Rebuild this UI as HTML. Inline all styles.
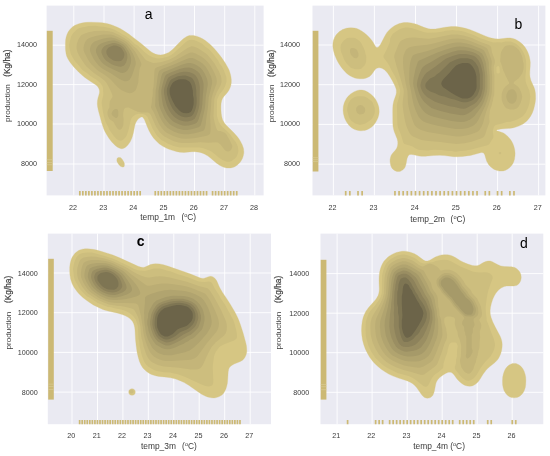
<!DOCTYPE html><html><head><meta charset="utf-8"><title>KDE plots</title><style>html,body{margin:0;padding:0;background:#fff}svg{display:block}text{font-family:"Liberation Sans",sans-serif;fill:#3a3a3a}</style></head><body>
<svg width="550" height="456" viewBox="0 0 550 456">
<rect width="550" height="456" fill="#fff"/>
<g>
<rect x="46.6" y="5.6" width="217.0" height="189.8" fill="#eaeaf2"/>
<path d="M73.8,5.6V195.4M104.0,5.6V195.4M134.1,5.6V195.4M164.3,5.6V195.4M194.5,5.6V195.4M224.7,5.6V195.4M254.8,5.6V195.4M46.6,45.2H263.6M46.6,84.6H263.6M46.6,124.0H263.6M46.6,164.0H263.6" stroke="#fff" stroke-width="0.90" fill="none"/>
<g>
<path d="M69.7,29.8 71.6,27.7 72.7,26.8 75.0,25.3 76.3,24.7 78.9,23.8 81.6,23.1 84.4,22.6 87.1,22.3 91.3,22.2 98.2,22.4 102.3,22.8 105.1,23.2 107.8,23.8 110.4,24.5 113.1,25.4 116.9,27.0 120.6,28.8 124.2,31.0 128.8,34.1 133.2,37.4 140.8,43.3 149.4,50.5 151.7,52.2 154.1,53.6 155.4,54.1 158.0,54.8 160.8,54.9 163.6,54.5 166.3,53.6 168.8,52.4 171.0,50.8 173.1,49.0 180.1,41.7 183.3,38.8 185.6,37.2 186.8,36.5 189.2,35.6 190.5,35.4 193.2,35.5 194.6,35.7 197.3,36.4 200.0,37.5 202.6,38.8 205.0,40.3 207.2,41.9 210.3,44.6 214.2,48.5 217.8,52.7 221.2,57.1 225.1,62.8 227.2,66.4 229.1,70.1 230.4,74.2 231.0,77.0 231.3,79.8 231.3,82.6 230.9,85.3 230.0,88.0 228.8,90.4 227.2,92.7 223.5,96.9 222.8,98.0 221.7,100.5 221.1,103.2 220.9,106.0 220.9,108.9 221.2,113.3 221.6,116.1 222.3,118.7 222.7,120.0 224.0,122.3 224.8,123.5 226.5,125.6 233.6,132.5 237.2,136.6 238.9,138.8 240.4,141.2 242.3,144.9 243.2,147.6 243.6,148.9 243.8,151.7 243.8,153.1 243.3,155.8 242.4,158.5 241.0,161.0 240.2,162.2 238.2,164.2 237.1,165.2 234.8,166.7 233.5,167.2 230.8,167.9 229.4,168.0 226.6,167.9 223.8,167.2 222.5,166.7 220.0,165.5 216.6,163.2 210.2,157.8 208.0,156.1 204.4,154.0 201.9,152.9 199.2,152.2 195.0,151.7 192.2,151.7 184.0,152.4 179.9,152.2 177.1,151.7 173.1,150.6 169.1,149.3 166.6,148.2 162.9,146.3 159.4,143.9 156.3,141.1 153.5,137.9 151.1,134.5 149.2,131.1 147.6,127.5 144.8,120.5 144.1,119.0 143.3,117.9 142.4,117.1 141.3,117.0 140.2,117.5 139.0,118.3 137.8,119.5 136.9,120.8 136.1,122.1 135.0,124.7 133.4,132.7 132.7,135.4 131.9,138.1 130.2,141.8 128.6,144.1 127.7,145.2 125.6,147.2 124.4,148.0 123.1,148.5 121.8,148.7 120.5,148.6 119.2,148.1 117.9,147.4 115.5,145.7 113.5,143.8 111.6,141.8 109.1,138.5 106.9,135.0 104.9,131.4 103.7,128.8 101.9,123.6 98.3,110.3 97.5,106.2 97.3,103.4 97.5,100.6 98.0,97.9 99.2,93.9 99.5,92.6 99.5,91.2 99.3,89.8 98.8,88.4 98.1,87.2 97.3,86.1 95.2,84.4 89.2,80.6 84.8,77.4 81.6,74.8 78.6,72.0 73.8,66.9 70.2,62.5 68.0,59.0 66.8,56.6 66.1,53.9 65.5,49.8 65.4,44.2 65.6,40.0 66.1,37.3 66.9,34.7 68.1,32.1ZM117.8,157.8 118.4,157.5 119.1,157.4 120.4,157.6 121.5,158.4 122.5,159.7 123.9,162.1 124.4,163.6 124.4,165.4 124.1,166.4 123.7,166.9 123.2,167.1 122.5,167.1 120.8,166.4 119.2,165.1 118.1,163.6 117.1,161.8 116.8,160.2 117.0,158.8 117.3,158.2Z" fill="#d6c683" stroke="#d6c683" stroke-width="0.3"/>
<path d="M72.8,33.6 76.6,29.7 78.3,28.6 81.6,27.5 84.6,27.0 88.6,26.1 95.6,25.8 99.6,26.5 103.6,26.7 109.6,28.1 114.6,29.8 117.6,31.6 119.6,32.4 122.6,34.5 125.6,36.1 130.6,39.8 134.6,43.8 135.6,44.5 137.6,45.5 138.6,46.2 143.6,51.3 148.6,55.3 152.6,57.3 155.6,58.1 157.6,58.5 161.6,58.3 166.6,57.1 168.1,56.6 171.6,54.8 173.3,53.6 185.6,42.2 187.6,40.8 189.6,40.0 191.6,39.7 194.6,40.3 196.6,41.0 201.9,43.6 205.6,46.9 208.6,49.0 210.6,50.9 214.4,55.6 215.7,57.6 218.2,60.6 219.6,63.4 221.3,65.6 222.5,67.6 223.9,70.6 226.2,76.6 226.5,78.6 226.5,81.6 226.3,82.6 225.4,85.6 223.4,89.6 219.6,94.2 217.6,98.3 217.2,99.6 217.0,101.6 216.9,113.6 217.1,116.6 218.6,121.5 220.3,124.6 222.9,127.6 226.6,130.8 230.2,134.6 233.6,139.4 235.4,141.6 236.5,143.6 237.8,146.6 238.4,150.6 238.3,151.6 237.6,154.2 236.6,156.7 234.6,158.8 231.6,160.9 229.6,161.7 228.6,161.8 226.6,161.7 222.6,160.0 218.7,157.6 215.6,154.8 211.4,151.6 209.4,150.6 202.6,147.9 199.6,147.5 186.6,147.6 179.6,147.5 173.6,146.0 167.5,143.6 164.4,141.6 161.6,140.2 160.8,139.6 156.8,135.6 152.5,128.6 150.9,124.6 149.6,122.1 147.6,117.1 146.1,115.6 144.5,114.6 142.6,114.1 138.6,113.8 137.6,113.9 135.8,114.6 134.1,115.6 132.9,116.6 132.0,117.6 131.4,118.6 130.6,120.6 128.9,128.6 127.4,133.6 126.6,135.5 125.6,137.2 123.6,139.3 121.6,140.5 120.6,140.7 118.6,140.2 116.6,138.9 113.6,135.8 109.2,129.6 108.0,126.6 105.6,121.9 103.7,115.6 102.9,111.6 101.7,103.6 101.8,101.6 103.4,94.6 103.0,88.6 102.6,86.6 102.1,85.6 100.7,83.6 96.6,79.8 92.8,77.6 89.9,75.6 86.6,72.7 83.1,70.6 82.0,69.6 78.9,65.6 75.3,61.6 72.7,57.6 71.1,54.6 70.4,52.6 69.4,47.6 69.3,44.6 69.6,42.6 71.1,36.6 71.6,35.4Z" fill="#cdbe7e" fill-rule="evenodd"/>
<path d="M80.2,36.6 81.6,35.1 83.6,34.0 88.6,32.3 94.6,31.1 103.6,30.7 108.6,31.2 112.6,32.1 118.6,34.8 124.6,38.2 128.6,41.1 133.6,46.2 136.6,48.6 145.6,59.8 146.6,60.5 151.6,62.5 153.6,63.0 156.6,62.8 161.6,62.0 166.6,60.6 169.6,59.5 175.3,56.6 182.6,51.3 187.6,48.0 189.6,47.0 191.6,46.3 193.6,46.5 197.6,48.1 205.6,53.3 207.6,55.0 210.6,58.4 214.5,63.6 219.0,71.6 220.7,75.6 221.4,78.6 221.6,81.6 220.9,84.6 220.0,86.6 217.6,90.7 216.7,92.6 214.7,97.6 214.3,99.6 213.5,115.6 213.8,118.6 214.9,123.6 216.4,128.6 217.6,130.6 218.6,131.1 220.6,131.1 221.6,131.4 224.3,132.6 225.6,133.6 226.6,134.8 229.6,140.0 232.2,145.6 232.3,146.6 232.1,147.6 231.3,149.6 230.4,150.6 229.6,151.1 228.6,151.4 226.6,151.3 225.6,150.8 224.3,149.6 220.5,144.6 218.6,142.9 217.6,142.5 215.6,142.3 208.6,142.7 200.6,142.3 189.6,143.1 182.6,143.1 178.6,142.6 174.6,141.4 171.6,140.3 164.5,136.6 162.0,134.6 160.0,132.6 156.0,126.6 150.6,114.6 149.6,113.4 148.6,112.8 147.6,112.6 141.6,112.6 137.6,111.8 134.8,110.6 129.6,107.9 128.6,107.6 127.6,107.4 125.6,107.7 124.6,108.4 123.9,109.6 123.3,112.6 123.1,115.6 123.6,119.6 123.4,123.6 123.2,125.6 122.6,127.1 121.6,128.8 120.6,129.5 119.6,129.7 118.6,129.5 117.6,128.8 115.4,125.6 113.6,122.1 112.6,121.2 110.6,120.1 109.1,118.6 108.2,116.6 107.6,114.6 107.5,112.6 107.6,111.6 108.3,109.6 109.4,107.6 109.6,102.6 109.8,101.6 110.2,100.6 112.2,97.6 112.5,96.6 112.5,95.6 111.8,93.6 108.5,86.6 106.2,82.6 104.4,80.6 99.6,76.7 96.1,74.6 93.3,72.6 86.5,66.6 84.8,64.6 80.2,57.6 77.6,52.6 77.0,50.6 76.6,48.6 76.6,46.6 76.8,44.6 77.3,42.6 78.4,39.6Z" fill="#c4b579" fill-rule="evenodd"/>
<path d="M87.0,39.6 88.4,38.6 90.6,37.6 96.6,35.8 103.6,34.6 107.6,34.5 110.6,34.6 113.6,35.3 117.6,36.9 123.6,40.0 126.6,42.1 128.3,43.6 135.1,51.6 139.1,58.6 141.3,63.6 141.4,64.6 141.1,65.6 140.1,67.6 139.5,69.6 138.5,78.6 138.3,82.6 136.4,88.6 135.6,90.2 134.6,91.3 132.6,92.6 131.6,93.0 129.6,93.2 126.6,92.5 121.6,90.3 119.6,88.8 117.6,87.0 110.6,79.6 108.6,77.8 104.2,74.6 99.3,71.6 96.6,69.6 91.6,64.6 89.9,62.6 88.0,59.6 84.8,53.6 83.7,50.6 83.5,47.6 84.2,44.6 85.5,41.6ZM192.6,52.4 195.6,53.5 201.6,56.8 204.6,59.0 207.2,61.6 209.7,64.6 211.6,67.6 214.7,73.6 215.9,76.6 216.5,78.6 216.8,81.6 216.6,83.6 212.9,93.6 211.7,97.6 211.4,99.6 210.9,107.6 210.1,116.6 210.6,127.6 210.5,131.6 210.1,133.6 209.4,134.6 207.6,135.5 205.6,136.1 195.6,137.9 190.6,138.6 185.6,138.8 181.6,138.5 177.6,137.6 172.6,135.8 167.6,133.2 165.6,131.9 163.6,130.1 161.6,127.7 158.8,123.6 153.6,112.1 151.4,108.6 151.0,107.6 151.0,106.6 151.8,102.6 152.0,98.6 152.7,95.6 152.8,89.6 153.6,86.6 154.4,71.6 154.7,69.6 155.1,68.6 156.6,67.4 167.6,63.6 170.6,62.4 176.9,59.6 184.6,55.3 188.6,53.3 190.6,52.5ZM115.6,108.9 116.6,108.9 117.6,109.6 118.3,111.6 118.3,115.6 117.6,117.1 116.6,117.9 115.6,117.9 112.6,115.8 111.8,114.6 111.6,113.6 112.4,111.6 113.1,110.6 114.6,109.2Z" fill="#bbad74" fill-rule="evenodd"/>
<path d="M93.2,42.6 94.7,41.6 96.6,40.7 102.6,38.7 107.6,37.8 111.6,37.6 113.6,37.9 115.6,38.5 120.6,40.7 123.6,42.4 126.4,44.6 131.0,50.6 132.8,53.6 134.9,58.6 135.8,62.6 135.7,64.6 132.6,73.9 131.0,77.6 129.6,79.7 128.5,80.6 126.6,81.3 124.6,81.2 122.6,80.5 118.6,78.4 111.1,73.6 102.6,68.7 100.6,67.3 98.7,65.6 95.4,61.6 93.4,58.6 91.4,54.6 90.2,51.6 89.9,49.6 90.5,46.6 91.5,44.6ZM191.6,57.9 192.6,58.0 194.6,58.8 199.6,61.4 202.6,63.6 205.5,66.6 208.1,70.6 211.0,76.6 211.6,78.6 212.1,80.6 212.1,83.6 208.7,97.6 207.9,107.6 206.6,116.6 205.8,123.6 205.1,127.6 204.4,129.6 203.6,130.4 202.6,131.0 198.6,132.3 194.6,133.3 188.6,134.3 183.6,134.3 180.6,133.8 177.6,133.0 173.6,131.4 170.1,129.6 167.6,127.9 166.2,126.6 164.4,124.6 162.3,121.6 159.6,116.6 155.4,106.6 155.2,104.6 155.7,90.6 156.4,86.6 157.4,78.6 158.0,74.6 158.9,71.6 159.6,70.6 161.6,69.3 172.6,65.0 186.6,59.0 189.6,58.0Z" fill="#b1a46f" fill-rule="evenodd"/>
<path d="M98.2,45.6 100.6,43.7 103.6,42.4 108.6,41.0 112.6,40.4 114.6,40.6 117.6,41.6 121.6,43.5 123.6,44.8 125.6,46.8 128.7,51.6 130.1,54.6 130.9,57.6 131.1,60.6 130.7,63.6 129.2,67.6 127.6,70.3 126.3,71.6 124.6,72.6 122.6,73.0 120.6,72.7 116.6,71.1 108.6,67.3 105.6,65.6 102.9,63.6 101.1,61.6 99.0,58.6 97.4,55.6 96.1,52.6 95.9,50.6 96.0,49.6 96.8,47.6ZM190.6,62.9 193.6,63.8 197.6,65.8 200.6,68.0 202.6,70.2 204.7,73.6 206.9,78.6 207.6,81.6 207.8,83.6 207.6,85.6 205.8,96.6 205.2,105.6 204.6,109.6 202.1,120.6 200.6,125.4 199.6,126.6 198.6,127.2 192.6,129.1 187.6,130.0 183.6,129.9 180.6,129.3 177.6,128.4 174.6,127.1 171.6,125.4 169.6,123.9 168.2,122.6 166.5,120.6 164.6,117.9 161.9,112.6 159.8,107.6 159.2,105.6 158.6,99.6 158.5,90.6 161.0,77.6 161.9,74.6 162.4,73.6 163.2,72.6 164.6,71.7 181.6,64.8 186.6,63.3 188.6,62.9Z" fill="#a69a69" fill-rule="evenodd"/>
<path d="M103.1,47.6 104.6,46.1 106.6,44.9 109.6,43.9 112.6,43.1 114.6,43.1 116.6,43.5 119.6,44.6 121.6,45.7 123.6,47.6 124.3,48.6 126.6,52.6 127.2,54.6 127.4,57.6 127.0,59.6 126.1,62.6 124.9,64.6 123.6,65.7 121.6,66.5 120.6,66.7 118.6,66.5 114.6,65.4 111.6,64.2 109.6,63.1 106.6,61.1 105.0,59.6 103.6,57.6 102.1,54.6 101.4,52.6 101.5,50.6 101.8,49.6ZM188.6,67.5 191.6,68.1 194.6,69.4 197.6,71.4 199.6,73.6 201.8,77.6 203.1,81.6 203.6,84.6 203.5,88.6 202.8,95.6 202.3,104.6 201.9,107.6 201.3,110.6 199.8,115.6 198.6,119.3 197.6,121.6 196.6,122.8 195.6,123.5 192.6,124.6 188.6,125.6 184.6,125.7 182.6,125.4 179.6,124.6 176.6,123.3 174.6,122.3 172.6,120.9 171.1,119.6 169.3,117.6 167.6,115.3 166.0,112.6 164.6,109.6 163.4,106.6 162.8,104.6 161.8,98.6 161.3,93.6 161.3,90.6 162.0,86.6 164.2,78.6 165.5,75.6 166.5,74.6 170.5,72.6 179.6,69.0 184.6,67.8Z" fill="#9a8e62" fill-rule="evenodd"/>
<path d="M107.7,48.6 108.7,47.6 110.7,46.6 113.5,45.6 114.6,45.5 116.6,45.8 119.6,46.9 120.6,47.6 121.7,48.6 122.6,49.9 123.6,51.7 124.3,53.6 124.4,54.6 124.1,56.6 123.6,57.9 122.6,59.6 121.6,60.5 120.6,61.0 118.6,61.2 115.6,61.0 113.6,60.6 112.6,60.1 109.6,58.1 108.1,56.6 106.5,53.6 106.3,51.6 106.5,50.6ZM183.6,71.7 186.6,71.7 189.6,72.2 192.9,73.6 194.5,74.6 195.6,75.6 197.0,77.6 198.4,80.6 199.2,83.6 199.7,86.6 199.8,90.6 199.4,104.6 198.7,108.6 197.5,112.6 195.9,116.6 194.6,118.7 193.6,119.5 191.6,120.5 189.6,121.1 187.6,121.4 185.6,121.5 183.6,121.3 181.6,120.8 178.6,119.7 176.6,118.6 175.1,117.6 173.6,116.3 171.6,114.0 169.2,110.6 166.9,105.6 165.2,99.6 164.1,93.6 164.0,90.6 164.5,87.6 166.8,80.6 167.6,78.7 168.4,77.6 170.6,76.1 176.6,73.5 179.6,72.5Z" fill="#8d825b" fill-rule="evenodd"/>
<path d="M179.6,75.9 183.6,75.5 185.6,75.6 188.6,76.4 191.2,77.6 192.6,78.8 193.6,80.2 194.7,82.6 195.6,85.6 196.3,90.6 196.3,94.6 196.7,98.6 196.6,103.6 196.2,106.6 195.0,110.6 193.6,113.8 192.6,115.0 191.6,115.9 190.6,116.4 188.6,117.1 186.6,117.3 184.6,117.3 181.6,116.6 178.6,115.1 175.6,112.4 172.6,108.8 170.6,105.1 168.4,99.6 167.1,94.6 166.8,91.6 167.0,88.6 168.8,83.6 169.6,81.7 170.3,80.6 171.6,79.3 173.6,78.2 177.2,76.6Z" fill="#7e7553" fill-rule="evenodd"/>
<path d="M178.6,79.5 180.6,79.3 183.6,79.2 185.6,79.6 187.6,80.4 189.6,81.8 190.6,83.3 191.6,85.6 192.8,90.6 193.0,95.6 193.7,98.6 193.6,104.6 192.6,108.6 191.6,110.8 190.6,111.9 188.6,112.9 186.6,113.2 183.6,113.0 181.6,112.2 179.6,110.7 175.6,106.4 172.6,101.1 170.6,96.5 169.8,93.6 169.6,91.6 169.8,88.6 170.6,86.6 172.2,83.6 173.6,82.1 176.1,80.6Z" fill="#6c6449" fill-rule="evenodd"/>
</g>
<rect x="46.8" y="30.8" width="5.9" height="140.2" fill="#ccb974"/>
<rect x="46.8" y="159.5" width="5.9" height="0.6" fill="#d9cb98"/>
<rect x="46.8" y="162.0" width="5.9" height="0.6" fill="#d9cb98"/>
<rect x="46.8" y="164.5" width="5.9" height="0.6" fill="#d9cb98"/>
<path d="M79.83,191.0V195.4M82.85,191.0V195.4M85.87,191.0V195.4M88.88,191.0V195.4M91.90,191.0V195.4M94.92,191.0V195.4M97.94,191.0V195.4M100.95,191.0V195.4M103.97,191.0V195.4M106.99,191.0V195.4M110.00,191.0V195.4M113.02,191.0V195.4M116.04,191.0V195.4M119.06,191.0V195.4M122.07,191.0V195.4M125.09,191.0V195.4M128.11,191.0V195.4M131.12,191.0V195.4M134.14,191.0V195.4M137.16,191.0V195.4M140.17,191.0V195.4M155.26,191.0V195.4M158.28,191.0V195.4M161.29,191.0V195.4M164.31,191.0V195.4M167.33,191.0V195.4M170.34,191.0V195.4M173.36,191.0V195.4M176.38,191.0V195.4M179.39,191.0V195.4M182.41,191.0V195.4M185.43,191.0V195.4M188.45,191.0V195.4M191.46,191.0V195.4M194.48,191.0V195.4M197.50,191.0V195.4M200.51,191.0V195.4M203.53,191.0V195.4M206.55,191.0V195.4M212.58,191.0V195.4M215.60,191.0V195.4M218.62,191.0V195.4M221.63,191.0V195.4M224.65,191.0V195.4M227.67,191.0V195.4M230.68,191.0V195.4M233.70,191.0V195.4M236.72,191.0V195.4" stroke="#ccb974" stroke-width="1.70" fill="none"/>
<text x="73.0" y="209.8" font-size="7.2" text-anchor="middle">22</text>
<text x="103.2" y="209.8" font-size="7.2" text-anchor="middle">23</text>
<text x="133.3" y="209.8" font-size="7.2" text-anchor="middle">24</text>
<text x="163.5" y="209.8" font-size="7.2" text-anchor="middle">25</text>
<text x="193.7" y="209.8" font-size="7.2" text-anchor="middle">26</text>
<text x="223.9" y="209.8" font-size="7.2" text-anchor="middle">27</text>
<text x="254.0" y="209.8" font-size="7.2" text-anchor="middle">28</text>
<text x="36.9" y="47.2" font-size="7.2" text-anchor="end">14000</text>
<text x="36.9" y="86.6" font-size="7.2" text-anchor="end">12000</text>
<text x="36.9" y="126.0" font-size="7.2" text-anchor="end">10000</text>
<text x="36.9" y="166.0" font-size="7.2" text-anchor="end">8000</text>
<text x="140.2" y="219.6" font-size="8.4">temp_1m</text>
<text x="181.4" y="219.6" font-size="8.4">(<tspan font-size="5.6" dy="-2.6">o</tspan><tspan dy="2.6">C)</tspan></text>
<text transform="translate(9.8,122.0) rotate(-90)" font-size="8.1">production</text>
<text transform="translate(9.8,76.8) rotate(-90)" font-size="8.3" stroke="#3a3a3a" stroke-width="0.2">(Kg/ha)</text>
<text x="148.6" y="19.1" font-size="14.0" font-weight="normal" text-anchor="middle" style="fill:#000">a</text>
</g>
<g>
<rect x="312.5" y="5.6" width="232.9" height="189.8" fill="#eaeaf2"/>
<path d="M333.4,5.6V195.4M374.4,5.6V195.4M415.5,5.6V195.4M456.5,5.6V195.4M497.6,5.6V195.4M538.6,5.6V195.4M312.5,45.0H545.4M312.5,84.7H545.4M312.5,124.4H545.4M312.5,164.2H545.4" stroke="#fff" stroke-width="0.90" fill="none"/>
<g>
<path d="M336.0,35.1 337.6,33.2 339.4,31.6 341.5,30.2 342.5,29.6 344.8,28.7 347.1,28.1 350.8,27.7 354.4,28.0 356.8,28.6 359.0,29.5 361.2,30.7 364.2,32.8 366.9,35.1 369.4,37.5 371.7,40.2 373.1,42.3 375.2,45.9 375.9,46.9 376.6,47.5 377.4,47.5 378.2,47.2 379.0,46.4 380.6,44.2 385.1,35.5 386.8,32.7 388.3,30.9 390.8,28.4 392.8,26.9 394.9,25.6 397.1,24.5 399.3,23.6 401.7,22.9 404.0,22.5 407.6,22.5 411.2,22.9 414.8,23.8 417.1,24.5 423.9,27.3 426.2,28.1 428.5,28.7 430.8,29.1 433.1,29.1 435.5,28.9 445.2,27.2 451.2,26.6 456.0,26.6 460.8,27.2 465.5,28.3 470.1,29.7 475.7,31.9 485.7,36.2 489.1,37.4 491.4,38.1 495.0,38.8 498.6,39.0 501.0,38.8 507.0,38.0 509.4,37.9 510.6,38.0 512.9,38.5 515.3,39.3 517.5,40.4 519.5,41.7 522.3,44.0 523.9,45.8 525.4,47.7 526.6,49.8 527.7,51.9 528.6,54.2 529.3,56.5 530.0,60.1 530.3,62.5 530.2,66.1 529.8,72.1 529.8,74.6 530.0,77.0 530.9,80.5 533.9,87.1 534.7,89.3 535.2,91.7 535.5,94.1 535.6,99.0 535.2,102.6 534.5,106.1 533.6,109.6 532.3,113.0 530.6,116.2 529.2,118.2 526.9,120.9 525.0,122.5 523.1,123.9 520.9,125.1 518.7,126.1 515.2,127.3 512.8,127.9 510.6,128.3 503.7,128.8 500.8,129.1 497.8,129.7 496.9,130.0 496.5,130.4 496.8,130.7 497.8,131.1 502.1,132.5 503.5,133.1 505.6,134.4 508.1,136.7 510.5,139.5 511.8,141.6 512.9,143.7 513.8,146.0 514.7,149.6 515.1,153.2 515.0,155.6 514.5,159.2 513.8,161.5 512.8,163.8 511.4,165.8 509.8,167.6 507.8,169.1 505.6,170.2 503.3,170.9 500.8,171.1 499.6,171.1 497.2,170.6 494.9,169.7 493.8,169.2 491.8,167.8 490.0,166.2 488.5,164.4 487.3,162.3 486.7,161.2 485.9,158.8 484.8,154.9 484.3,153.9 483.6,153.1 482.8,152.7 481.7,152.6 480.5,152.7 474.0,154.6 470.5,155.4 462.4,156.5 457.5,156.8 453.9,156.7 444.3,155.6 439.5,155.3 433.4,155.5 425.2,156.3 421.6,156.3 419.1,156.1 413.8,154.8 411.4,154.4 410.3,154.5 409.3,154.8 408.5,155.5 407.9,156.4 407.0,158.8 406.1,163.8 405.5,166.1 405.0,167.2 404.4,168.2 403.6,169.1 402.7,170.0 401.6,170.6 400.5,171.2 399.3,171.5 398.0,171.5 396.8,171.4 395.6,171.0 394.5,170.4 393.5,169.7 392.6,168.9 391.8,167.9 390.8,165.7 390.5,164.5 390.1,162.0 390.1,159.5 390.3,158.3 390.9,156.0 391.4,154.9 392.8,153.0 395.3,150.3 396.7,148.3 397.5,146.0 397.8,143.6 397.7,141.2 397.1,138.8 394.4,132.1 393.7,129.8 393.0,126.3 392.8,122.7 392.7,110.5 392.9,105.6 393.3,103.3 393.8,100.9 395.9,95.1 396.4,92.8 396.4,90.5 396.2,89.3 395.4,87.0 394.4,84.7 392.2,80.4 389.7,76.3 387.7,73.3 386.2,71.4 384.4,69.7 382.3,68.5 381.0,68.1 379.8,67.8 378.6,67.8 377.5,68.0 376.4,68.4 375.6,69.1 374.8,70.0 371.8,74.2 370.1,76.0 369.1,76.7 366.9,77.8 365.7,78.2 363.3,78.7 359.6,78.8 357.2,78.5 354.8,78.0 352.5,77.1 350.4,76.0 348.4,74.7 346.5,73.2 344.8,71.5 342.4,68.7 340.9,66.7 338.9,63.7 337.1,60.5 336.1,58.3 334.7,55.0 334.0,52.6 333.4,50.2 333.0,47.8 332.8,45.4 333.0,43.0 333.4,40.6 333.8,39.4 334.7,37.2ZM361.0,90.0 362.2,90.1 364.6,90.6 365.8,91.1 368.1,92.2 371.2,94.4 373.8,97.1 376.0,100.1 377.7,103.5 378.8,107.0 379.1,109.5 379.2,112.0 378.9,114.4 377.9,118.0 376.8,120.3 375.6,122.5 373.3,125.5 371.4,127.2 369.4,128.6 367.1,129.7 364.7,130.4 363.5,130.6 361.0,130.8 359.8,130.7 357.3,130.3 354.9,129.6 353.7,129.0 351.6,127.7 350.7,127.0 348.9,125.2 346.7,122.2 345.5,120.0 344.5,117.7 343.5,114.1 343.1,110.4 343.3,106.6 344.2,103.0 345.2,100.7 346.4,98.5 347.9,96.6 350.6,94.0 353.8,91.9 356.1,90.9 357.3,90.5 359.8,90.0Z" fill="#d6c683" stroke="#d6c683" stroke-width="0.3"/>
<path d="M391.1,36.6 392.5,34.3 393.5,33.2 397.5,30.4 399.5,29.3 401.5,28.5 403.5,27.9 405.5,27.5 407.5,27.5 412.5,28.2 423.5,31.9 427.5,32.8 436.5,32.6 439.5,31.9 443.5,31.4 445.5,30.8 449.5,30.5 452.5,30.0 455.5,30.4 458.5,30.5 464.5,31.7 473.5,34.9 481.5,38.8 484.5,39.6 487.5,40.8 492.5,42.3 493.5,42.5 498.5,42.2 501.5,42.5 505.5,41.6 509.5,41.4 511.5,41.8 515.5,43.6 517.5,44.9 520.3,47.6 523.0,51.6 524.8,55.6 526.0,60.6 526.2,63.6 526.1,69.6 525.4,77.6 525.7,81.6 526.6,84.6 529.3,90.6 530.3,96.6 529.4,103.6 528.1,107.6 526.3,111.6 525.5,112.9 522.5,116.4 519.5,118.3 516.5,119.8 514.5,120.6 510.5,121.7 506.5,122.0 502.0,123.6 496.5,124.8 495.0,125.6 494.2,126.6 493.7,127.6 492.9,130.6 492.9,132.6 493.4,135.6 493.3,137.6 492.8,138.6 491.5,140.4 489.5,143.8 488.5,144.8 486.8,145.6 483.5,146.2 471.5,149.6 468.5,150.0 464.5,150.8 460.5,151.0 457.5,151.6 455.5,151.7 451.5,151.0 446.5,150.7 441.5,149.9 433.5,149.7 427.5,150.5 420.5,150.1 418.5,149.7 415.6,148.6 412.5,146.6 410.5,145.7 404.5,144.0 404.0,143.6 403.3,142.6 400.9,134.6 398.0,127.6 397.4,124.6 396.9,105.6 397.2,103.6 399.2,96.6 400.2,91.6 400.0,89.6 398.8,85.6 396.9,80.6 395.1,76.6 391.6,70.6 389.5,65.9 387.5,62.8 384.3,58.6 383.7,57.6 383.5,56.6 383.6,55.6 386.7,49.6 389.3,43.6 389.9,41.6 390.2,38.6ZM497.5,66.2 497.0,66.6 496.4,67.6 496.5,72.6 497.5,73.4 498.5,73.4 499.5,72.9 499.7,72.6 499.8,71.6 499.5,67.6 499.0,66.6 498.5,66.1ZM347.5,38.0 349.5,37.8 353.5,37.8 355.5,38.3 357.5,39.4 359.5,41.1 360.8,42.6 361.4,43.6 363.9,48.6 365.1,51.6 365.5,53.9 366.1,55.6 366.3,57.6 366.1,61.6 365.5,63.6 364.5,65.6 361.5,68.6 360.5,69.1 358.5,69.3 355.5,69.2 354.5,69.1 351.5,68.0 350.5,67.5 346.5,63.6 344.7,60.6 343.7,58.6 342.5,55.2 341.3,52.6 340.8,50.6 340.5,47.6 340.9,44.6 341.5,43.4 343.5,40.7 346.5,38.4ZM357.5,96.3 361.5,96.2 364.5,96.5 367.5,98.0 372.0,101.6 372.6,102.6 374.5,107.4 374.7,108.6 374.7,111.6 374.5,113.6 373.5,116.1 372.5,117.9 371.5,119.2 369.9,120.6 365.5,123.4 360.5,124.7 359.5,124.7 355.3,123.6 352.2,121.6 351.5,120.9 349.5,118.2 348.8,116.6 347.4,111.6 347.2,110.6 347.3,107.6 348.4,103.6 350.5,100.1 351.5,99.0 353.8,97.6 355.5,96.8ZM499.5,151.9 500.5,151.9 501.2,152.6 501.2,153.6 500.5,154.3 499.5,154.3 498.8,153.6 498.8,152.6Z" fill="#cdbe7e" fill-rule="evenodd"/>
<path d="M489.7,45.6 490.7,46.6 491.2,47.6 492.0,52.6 494.3,58.6 494.8,60.6 494.9,62.6 494.7,63.6 494.0,65.6 493.7,67.6 493.9,72.6 494.4,75.6 494.3,93.6 494.1,95.6 493.4,97.6 493.0,100.6 492.3,102.6 491.7,105.6 490.5,108.6 489.9,110.6 489.2,117.6 489.6,121.6 489.4,122.6 486.8,129.6 485.2,134.6 484.1,136.6 483.0,137.6 481.5,138.3 471.5,141.8 464.5,143.3 456.5,143.9 447.5,143.0 440.5,142.0 428.5,141.1 424.5,140.6 421.5,139.9 419.5,139.2 413.5,136.7 411.5,135.6 409.8,133.6 408.2,130.6 406.2,125.6 405.1,121.6 403.5,112.6 402.6,105.6 402.7,102.6 403.8,92.6 403.6,89.6 400.5,78.6 396.6,66.6 394.3,57.6 394.3,55.6 394.9,53.6 398.5,44.6 399.5,42.7 400.3,41.6 401.5,40.5 404.5,39.0 406.5,38.3 409.5,37.7 412.5,37.5 414.5,37.6 424.5,38.6 428.5,38.7 435.5,37.8 446.5,35.4 451.5,34.6 453.5,34.5 457.5,34.6 463.5,35.4 469.5,37.2 472.5,38.3 480.5,41.9 487.7,44.6ZM509.5,45.2 512.5,45.4 513.5,45.8 516.5,47.7 518.5,49.6 520.5,52.8 521.5,54.9 522.5,57.9 522.8,60.6 523.6,63.6 523.6,68.6 522.5,72.9 521.5,74.5 518.5,78.5 514.5,81.6 513.8,82.6 513.6,83.6 517.5,86.2 518.5,87.2 519.4,88.6 520.9,91.6 522.1,95.6 522.2,96.6 521.9,98.6 520.8,102.6 518.7,106.6 517.5,107.8 516.5,108.4 514.5,109.3 513.5,109.4 510.5,109.4 508.5,109.1 506.5,108.2 505.5,107.4 504.1,105.6 503.0,103.6 501.9,100.6 501.6,98.6 501.7,93.6 502.8,90.6 503.8,88.6 505.5,86.5 509.2,83.6 509.0,82.6 505.5,75.6 504.3,72.6 503.5,71.0 502.5,68.3 502.2,66.6 500.3,61.6 500.2,60.6 500.5,57.6 500.7,53.6 501.5,51.2 502.4,49.6 504.5,46.7 505.5,46.1 507.3,45.6ZM351.5,48.1 352.5,47.9 354.5,48.3 356.5,49.5 357.3,50.6 358.4,53.6 358.5,55.6 358.2,56.6 357.5,57.6 356.5,58.2 355.5,58.3 354.5,58.1 353.5,57.6 351.5,55.6 350.5,54.0 350.0,51.6 350.1,49.6 350.7,48.6ZM358.5,105.6 359.5,105.2 360.5,105.1 361.5,105.2 362.5,105.6 364.5,107.6 365.0,108.6 365.2,110.6 365.0,111.6 364.6,112.6 363.5,113.7 362.5,114.1 361.5,114.3 359.5,114.4 358.5,114.1 357.7,113.6 356.9,112.6 356.1,110.6 356.1,108.6 356.5,107.6 357.3,106.6Z" fill="#c4b579" fill-rule="evenodd"/>
<path d="M486.5,48.0 487.7,49.6 491.3,59.6 491.7,61.6 491.7,63.6 491.3,67.6 492.1,76.6 492.0,87.6 491.8,92.6 491.3,95.6 490.0,100.6 488.5,105.6 486.2,111.6 484.5,117.6 483.3,122.6 481.6,126.6 479.5,129.9 478.5,131.0 476.5,132.2 472.5,133.8 468.5,135.1 463.5,136.1 459.5,136.4 456.5,136.4 447.5,135.3 427.5,131.9 423.5,130.8 420.5,129.7 418.3,128.6 416.5,127.3 414.5,124.9 413.4,122.6 410.9,115.6 408.7,107.6 407.9,102.6 407.5,91.6 405.5,82.6 403.4,68.6 403.0,62.6 403.2,57.6 403.6,55.6 404.7,52.6 405.6,50.6 406.5,49.3 407.5,48.4 408.5,47.8 410.5,47.1 413.5,46.3 417.5,45.7 427.5,44.8 434.5,43.2 448.3,39.6 452.5,38.8 457.5,38.6 463.5,39.1 469.5,40.7 483.9,46.6ZM511.5,89.3 513.5,89.6 514.5,90.3 515.5,91.4 516.5,93.6 516.9,96.6 516.5,99.6 515.5,101.7 514.7,102.6 513.5,103.4 512.5,103.7 511.5,103.8 510.5,103.6 509.5,103.1 507.8,101.6 506.6,98.6 506.2,96.6 506.5,94.6 507.8,91.6 508.5,90.6 509.5,89.9 510.5,89.5Z" fill="#bbad74" fill-rule="evenodd"/>
<path d="M413.5,55.1 416.5,53.8 427.5,50.9 446.5,44.6 452.5,43.1 457.5,42.6 460.5,42.6 463.5,42.9 466.5,43.4 469.5,44.2 480.5,48.6 482.5,49.6 483.9,50.6 485.2,52.6 488.1,59.6 488.8,62.6 488.8,67.6 489.7,76.6 489.7,87.6 489.4,91.6 488.9,94.6 487.2,100.6 485.4,105.6 478.5,119.8 476.7,122.6 474.7,124.6 473.5,125.5 471.5,126.5 468.5,127.7 465.5,128.6 461.5,129.1 455.5,128.9 445.5,127.3 436.5,125.5 430.5,124.0 426.5,122.7 423.5,121.4 421.5,120.1 420.0,118.6 418.5,116.5 417.0,113.6 415.3,109.6 413.9,105.6 412.7,100.6 411.1,91.6 409.5,83.6 409.2,79.6 409.3,73.6 409.5,68.6 409.9,64.6 410.7,60.6 411.7,57.6 412.5,56.0Z" fill="#b1a46f" fill-rule="evenodd"/>
<path d="M459.5,46.4 464.5,46.7 469.5,47.7 473.5,49.1 478.5,51.2 480.5,52.4 481.5,53.2 482.5,54.5 483.5,56.3 485.5,61.6 486.0,63.6 487.4,76.6 487.4,87.6 487.0,91.6 486.4,94.6 485.1,98.6 484.0,101.6 482.5,104.7 480.5,108.0 478.5,110.8 474.5,115.9 472.5,117.8 470.5,119.3 467.5,120.8 464.5,121.8 461.5,122.1 457.5,121.8 451.5,121.0 438.5,118.1 433.5,116.7 429.5,115.2 427.5,114.3 425.5,113.0 423.5,111.0 421.5,108.4 419.7,105.6 418.5,103.1 416.8,98.6 415.5,94.1 413.6,86.6 413.2,83.6 413.3,80.6 413.7,77.6 415.6,68.6 417.5,62.7 418.2,61.6 419.2,60.6 437.4,52.6 444.5,49.9 452.5,47.4 456.5,46.7Z" fill="#a69a69" fill-rule="evenodd"/>
<path d="M460.5,50.2 465.5,50.4 469.5,51.2 472.5,52.1 475.5,53.3 477.5,54.4 479.0,55.6 479.9,56.6 481.2,58.6 482.8,62.6 483.4,64.6 484.8,72.6 485.1,75.6 485.1,86.6 484.9,89.6 483.5,95.6 482.5,98.4 481.5,100.5 479.5,103.6 477.5,106.1 471.5,111.2 468.5,113.2 466.5,114.3 464.5,115.0 462.5,115.3 459.5,115.1 450.5,113.5 439.5,110.8 433.5,108.8 431.5,107.9 429.5,106.6 424.5,102.2 423.1,100.6 421.5,98.3 419.6,94.6 418.2,90.6 417.1,86.6 416.9,84.6 417.4,80.6 419.2,74.6 421.5,69.1 422.5,67.5 423.5,66.4 425.5,65.0 431.5,61.8 440.2,56.6 443.5,55.0 452.5,51.7 457.5,50.5Z" fill="#9a8e62" fill-rule="evenodd"/>
<path d="M460.5,53.9 465.5,54.0 468.5,54.4 473.5,55.8 474.9,56.6 476.1,57.6 478.5,60.3 480.5,64.2 481.7,68.6 482.6,72.6 482.8,74.6 482.7,88.6 481.6,93.6 480.6,96.6 480.0,97.6 476.5,102.1 474.5,103.8 467.5,107.6 465.5,108.4 463.5,108.7 460.5,108.4 454.5,107.1 449.5,106.2 443.5,104.4 438.5,103.1 434.5,101.4 427.5,97.2 426.5,96.5 424.5,94.5 423.0,92.6 421.9,90.6 420.8,87.6 420.4,85.6 420.9,82.6 421.9,79.6 424.5,75.0 426.5,72.7 435.5,66.6 443.3,60.6 446.2,58.6 452.5,55.9 458.5,54.2Z" fill="#8d825b" fill-rule="evenodd"/>
<path d="M477.9,66.6 478.6,68.6 479.1,71.6 479.8,74.6 479.9,85.6 479.8,88.6 478.9,91.6 477.3,95.6 473.5,99.6 471.8,100.6 468.5,101.8 466.5,102.3 463.5,102.3 461.5,101.9 454.5,99.6 451.5,99.1 448.5,98.1 444.5,96.4 441.5,95.9 438.5,94.9 435.8,93.6 430.3,91.6 427.3,89.6 426.3,88.6 425.7,87.6 425.3,85.6 425.7,83.6 426.5,82.3 429.5,79.1 430.5,78.3 434.5,76.4 436.6,74.6 439.5,72.6 449.7,62.6 455.5,59.7 458.5,58.7 460.5,58.2 467.5,58.2 469.5,58.7 472.1,59.6 473.5,60.7 475.5,62.8Z" fill="#7e7553" fill-rule="evenodd"/>
<path d="M462.5,63.0 467.5,63.0 468.5,63.2 469.4,63.6 470.7,64.6 472.5,66.6 474.5,69.8 475.5,72.6 476.4,76.6 476.6,86.6 476.4,88.6 475.7,90.6 473.5,94.6 471.7,96.6 470.3,97.6 467.5,98.6 462.5,98.6 460.5,97.8 455.9,95.6 450.8,92.6 446.5,89.5 443.4,87.6 442.5,86.6 441.4,84.6 441.3,83.6 441.8,81.6 443.5,79.0 449.8,72.6 452.2,69.6 456.1,65.6 458.5,64.2Z" fill="#6c6449" fill-rule="evenodd"/>
</g>
<rect x="312.7" y="30.8" width="5.7" height="140.7" fill="#ccb974"/>
<rect x="312.7" y="157.5" width="5.7" height="0.6" fill="#d9cb98"/>
<rect x="312.7" y="159.5" width="5.7" height="0.6" fill="#d9cb98"/>
<rect x="312.7" y="161.3" width="5.7" height="0.6" fill="#d9cb98"/>
<path d="M345.71,191.0V195.4M349.82,191.0V195.4M358.02,191.0V195.4M362.13,191.0V195.4M394.96,191.0V195.4M399.06,191.0V195.4M403.17,191.0V195.4M407.27,191.0V195.4M411.38,191.0V195.4M415.48,191.0V195.4M419.58,191.0V195.4M423.69,191.0V195.4M427.79,191.0V195.4M431.90,191.0V195.4M436.00,191.0V195.4M440.10,191.0V195.4M444.21,191.0V195.4M448.31,191.0V195.4M452.42,191.0V195.4M456.52,191.0V195.4M460.62,191.0V195.4M464.73,191.0V195.4M468.83,191.0V195.4M472.94,191.0V195.4M477.04,191.0V195.4M485.25,191.0V195.4M489.35,191.0V195.4M497.56,191.0V195.4M501.66,191.0V195.4M509.87,191.0V195.4M513.98,191.0V195.4" stroke="#ccb974" stroke-width="1.70" fill="none"/>
<text x="332.6" y="210.2" font-size="7.2" text-anchor="middle">22</text>
<text x="373.6" y="210.2" font-size="7.2" text-anchor="middle">23</text>
<text x="414.7" y="210.2" font-size="7.2" text-anchor="middle">24</text>
<text x="455.7" y="210.2" font-size="7.2" text-anchor="middle">25</text>
<text x="496.8" y="210.2" font-size="7.2" text-anchor="middle">26</text>
<text x="537.8" y="210.2" font-size="7.2" text-anchor="middle">27</text>
<text x="299.9" y="47.0" font-size="7.2" text-anchor="end">14000</text>
<text x="299.9" y="86.7" font-size="7.2" text-anchor="end">12000</text>
<text x="299.9" y="126.4" font-size="7.2" text-anchor="end">10000</text>
<text x="299.9" y="166.2" font-size="7.2" text-anchor="end">8000</text>
<text x="410.2" y="221.5" font-size="8.4">temp_2m</text>
<text x="450.6" y="221.5" font-size="8.4">(<tspan font-size="5.6" dy="-2.6">o</tspan><tspan dy="2.6">C)</tspan></text>
<text transform="translate(273.5,122.2) rotate(-90)" font-size="8.1">production</text>
<text transform="translate(273.5,77.0) rotate(-90)" font-size="8.3" stroke="#3a3a3a" stroke-width="0.2">(Kg/ha)</text>
<text x="518.4" y="29.1" font-size="14.0" font-weight="normal" text-anchor="middle" style="fill:#000">b</text>
</g>
<g>
<rect x="47.8" y="233.6" width="223.2" height="190.6" fill="#eaeaf2"/>
<path d="M72.0,233.6V424.2M97.5,233.6V424.2M122.9,233.6V424.2M148.3,233.6V424.2M173.8,233.6V424.2M199.2,233.6V424.2M224.7,233.6V424.2M250.2,233.6V424.2M47.8,273.0H271.0M47.8,312.7H271.0M47.8,352.4H271.0M47.8,392.1H271.0" stroke="#fff" stroke-width="0.90" fill="none"/>
<g>
<path d="M75.5,252.8 77.5,251.2 78.6,250.5 79.8,250.0 82.3,249.2 85.0,248.8 87.6,248.8 90.3,249.0 92.9,249.3 96.7,250.1 101.7,251.5 108.0,253.4 112.9,255.1 119.0,257.6 134.4,264.6 138.0,266.2 140.6,267.1 141.8,267.3 143.1,267.4 144.3,267.2 145.6,266.8 150.5,264.6 153.0,264.0 155.6,263.7 159.6,263.9 163.4,264.7 168.4,266.3 190.6,274.0 199.2,277.6 200.5,278.0 201.7,278.3 203.0,278.4 204.3,278.2 209.4,276.4 210.6,276.3 211.8,276.4 213.0,276.9 214.1,277.7 215.1,278.6 216.7,280.8 219.3,286.8 220.5,289.1 222.5,292.4 226.9,298.9 230.4,304.4 235.0,312.3 237.4,317.0 238.9,320.6 240.3,324.3 243.1,333.0 245.5,341.8 246.4,345.6 246.7,348.3 246.8,350.9 246.7,352.2 246.1,354.8 245.0,357.2 244.3,358.3 243.5,359.3 242.5,360.2 240.4,361.5 234.1,364.0 231.7,365.4 230.7,366.2 229.9,367.1 229.2,368.1 228.7,369.3 228.2,371.8 227.6,381.3 227.3,383.8 226.7,386.3 225.9,388.9 224.8,391.3 223.4,393.5 222.5,394.4 221.5,395.3 219.2,396.6 217.9,397.1 215.4,397.8 214.0,397.9 211.4,397.8 210.1,397.6 207.5,396.9 205.1,396.0 201.6,394.2 198.3,392.0 188.7,385.2 184.2,382.6 180.7,380.9 175.8,379.1 170.7,377.8 166.8,377.2 159.0,376.4 156.4,375.9 153.9,375.3 151.4,374.4 149.1,373.3 146.9,371.8 144.9,370.1 143.1,368.2 142.3,367.1 141.0,364.9 139.4,361.3 138.3,357.5 137.1,352.4 136.2,345.9 135.5,339.5 135.0,330.1 134.7,327.4 134.1,324.9 133.7,323.7 132.6,321.4 131.8,320.4 129.9,318.6 127.7,317.1 125.3,315.8 122.9,314.8 117.9,313.2 109.0,311.3 105.2,310.3 102.8,309.4 99.1,307.8 93.3,304.9 90.0,302.8 86.8,300.6 83.7,298.2 81.7,296.5 78.9,293.7 77.2,291.7 75.6,289.6 74.1,287.4 72.8,285.1 71.8,282.8 70.6,279.0 70.2,276.5 69.8,273.8 69.7,269.9 69.7,267.2 70.2,263.3 71.2,259.5 72.3,257.1 73.0,255.9 74.6,253.8ZM132.0,388.7 133.3,389.0 134.4,389.7 135.1,390.7 135.3,392.0 135.1,393.3 134.4,394.4 133.3,395.1 132.0,395.3 130.7,395.1 129.6,394.4 128.9,393.3 128.7,392.0 128.9,390.7 129.6,389.7 130.7,389.0Z" fill="#d6c683" stroke="#d6c683" stroke-width="0.3"/>
<path d="M77.8,255.7 79.8,254.1 82.8,252.9 87.8,252.5 91.8,252.6 95.8,253.5 102.8,255.6 105.8,256.2 109.1,257.6 111.8,258.2 116.8,260.2 120.8,262.5 122.8,263.2 129.8,266.4 133.8,268.7 137.8,270.2 139.8,270.6 144.8,270.9 147.8,270.3 153.8,268.6 156.8,268.4 159.8,268.6 163.8,269.4 166.8,270.5 170.8,271.6 177.8,274.2 180.8,275.0 183.8,276.1 187.8,277.2 194.8,280.1 198.8,281.4 200.8,281.7 204.8,281.9 208.8,281.6 209.8,281.7 210.8,282.1 211.8,283.1 212.8,284.6 214.7,288.6 219.3,295.6 220.7,298.6 222.8,301.4 225.5,305.6 227.5,309.6 229.9,313.6 231.3,316.6 233.0,319.6 234.5,323.6 236.3,330.6 236.8,333.6 237.0,336.6 236.9,337.6 236.5,338.6 235.5,339.6 234.0,340.6 224.8,343.9 222.8,344.9 220.0,346.6 219.0,347.6 215.8,351.8 214.6,354.6 214.0,356.6 212.9,364.6 212.7,367.6 213.3,379.6 213.3,382.6 212.8,384.6 211.9,385.6 210.8,386.1 208.8,386.4 206.8,386.3 204.8,385.8 199.8,383.8 184.8,376.7 177.8,374.3 169.8,372.6 163.8,372.2 155.8,370.7 153.0,369.6 148.8,367.0 146.8,365.2 145.3,363.6 144.1,361.6 142.1,356.6 141.0,352.6 140.5,349.6 139.7,346.6 139.3,341.6 138.5,338.6 138.0,326.6 135.8,319.6 133.8,316.8 131.8,314.7 128.8,312.6 123.8,310.3 119.8,309.2 116.8,308.8 110.8,307.3 107.8,306.9 97.8,302.9 94.8,301.1 89.8,297.7 87.8,296.8 86.8,296.2 80.3,289.6 78.8,287.6 77.9,285.6 75.5,281.6 74.8,280.1 73.8,276.6 73.5,272.6 73.0,269.6 73.0,268.6 74.0,263.6 74.9,260.6 76.4,257.6ZM129.5,390.6 130.8,389.8 131.8,389.7 132.8,389.9 133.5,390.6 133.6,391.6 133.3,392.6 132.8,393.1 131.8,393.4 130.8,393.4 129.8,392.9 129.5,392.6 129.1,391.6Z" fill="#cdbe7e" fill-rule="evenodd"/>
<path d="M80.6,259.6 81.8,258.6 83.8,257.6 86.8,256.9 90.8,256.4 95.8,256.8 104.8,258.5 111.8,260.7 115.8,262.4 124.5,266.6 128.2,268.6 132.8,271.6 136.8,273.7 140.8,275.4 145.8,277.2 147.8,277.6 149.8,277.6 155.8,276.5 159.8,276.2 163.8,276.5 169.8,277.5 186.8,281.8 198.8,286.1 205.8,287.8 207.8,288.6 208.8,289.4 209.8,290.6 214.3,297.6 220.8,309.6 225.3,319.6 226.6,323.6 226.9,326.6 226.6,330.6 226.0,332.6 225.6,333.6 223.8,335.8 215.8,342.2 212.0,346.6 210.2,349.6 207.6,354.6 202.8,365.1 201.1,367.6 199.8,368.6 197.8,369.3 195.8,369.6 190.8,369.5 178.8,367.7 163.8,366.4 157.8,364.9 154.7,363.6 151.8,361.9 149.2,359.6 147.2,356.6 145.9,353.6 143.6,346.6 142.5,341.6 141.6,338.6 141.0,334.6 140.4,326.6 138.5,318.6 137.8,316.6 135.8,312.4 134.8,310.7 133.8,309.6 131.8,308.6 124.8,306.8 120.8,306.1 116.8,305.8 108.8,304.4 103.8,302.6 99.1,300.6 95.8,298.7 88.0,293.6 85.2,290.6 82.0,286.6 78.4,279.6 77.5,276.6 77.2,274.6 77.2,269.6 77.5,267.6 79.0,262.6 79.8,260.8Z" fill="#c4b579" fill-rule="evenodd"/>
<path d="M83.3,263.6 84.1,262.6 85.8,261.5 88.8,260.6 91.8,260.1 97.8,260.0 105.8,261.0 110.8,262.5 113.5,263.6 122.8,268.2 126.6,270.6 130.8,274.0 144.8,284.2 146.8,285.4 147.8,285.8 149.8,285.8 156.8,284.2 161.8,283.6 165.8,283.5 171.8,283.9 181.8,285.5 186.8,286.6 192.8,288.5 203.8,292.9 204.9,293.6 205.9,294.6 207.8,297.0 209.5,299.6 211.2,302.6 214.1,308.6 217.1,315.6 218.4,319.6 219.0,323.6 218.7,326.6 217.7,329.6 216.6,331.6 215.0,333.6 206.8,343.3 197.8,355.7 195.9,357.6 194.2,358.6 191.8,359.5 187.8,360.1 170.8,361.1 165.8,360.9 162.8,360.4 159.8,359.5 156.8,358.3 153.8,356.4 150.8,353.2 149.1,350.6 146.8,344.9 144.7,338.6 143.9,335.6 143.2,331.6 142.9,327.6 142.1,323.6 141.1,316.6 138.9,307.6 138.3,305.6 137.8,304.8 136.8,304.0 135.8,303.6 133.8,303.3 123.8,302.9 116.8,302.9 113.8,302.7 108.8,301.9 104.8,300.5 99.8,298.4 96.8,296.6 90.9,292.6 87.9,289.6 85.0,285.6 83.3,282.6 81.2,277.6 80.8,274.6 81.3,269.6 82.1,266.6Z" fill="#bbad74" fill-rule="evenodd"/>
<path d="M86.4,266.6 87.2,265.6 87.8,265.2 89.8,264.3 91.8,263.7 96.8,263.0 101.8,262.9 105.8,263.2 109.8,264.3 113.8,265.9 118.8,268.4 122.4,270.6 125.0,272.6 131.8,279.6 135.3,283.6 137.4,286.6 139.6,290.6 140.2,292.6 140.2,293.6 139.8,294.6 138.4,295.6 136.8,296.3 130.8,298.0 124.8,299.2 116.8,300.1 113.8,300.1 108.8,299.4 105.8,298.5 100.8,296.3 96.4,293.6 91.8,290.0 89.1,286.6 86.2,281.6 84.6,277.6 84.4,275.6 84.5,273.6 85.0,270.6 85.6,268.6ZM145.8,296.4 147.1,295.6 152.1,293.6 157.8,291.7 164.8,290.2 170.8,289.8 173.8,289.9 184.8,290.9 190.8,292.5 195.8,294.4 200.8,297.3 203.1,299.6 205.3,302.6 207.4,306.6 208.8,309.6 210.8,315.6 211.6,320.6 211.7,322.6 211.4,324.6 210.8,326.6 209.9,328.6 207.0,333.6 199.1,342.6 192.8,348.3 189.6,350.6 184.8,352.2 171.8,355.2 167.8,355.3 163.8,355.0 160.8,354.1 158.8,353.2 156.8,351.9 152.8,348.4 151.8,347.0 149.4,342.6 147.8,338.9 146.6,335.6 145.8,332.6 145.2,327.6 144.5,323.6 144.2,319.6 144.3,315.6 144.0,312.6 144.9,303.6 145.0,297.6Z" fill="#b1a46f" fill-rule="evenodd"/>
<path d="M89.3,269.6 89.9,268.6 90.8,267.9 92.8,267.0 97.8,265.7 101.8,265.3 105.8,265.4 107.8,265.8 111.8,267.2 115.8,269.1 118.8,270.8 122.3,273.6 124.1,275.6 127.1,279.6 130.3,284.6 131.7,287.6 132.0,289.6 131.8,290.6 131.3,291.6 129.8,293.1 126.8,294.6 120.8,296.5 115.8,297.4 112.8,297.4 108.8,297.0 105.8,296.1 101.8,294.3 97.8,291.8 94.0,288.6 91.8,285.9 89.9,282.6 88.5,279.6 87.8,276.6 88.1,273.6ZM192.8,298.5 196.8,301.3 199.8,304.4 202.3,308.6 203.4,311.6 204.5,316.6 204.5,320.6 203.4,325.6 202.4,328.6 201.8,329.7 194.8,336.9 192.8,338.4 190.3,339.6 187.8,341.5 185.4,342.6 183.8,343.7 178.8,345.7 175.8,347.2 170.8,349.1 167.8,349.3 164.8,349.1 161.8,348.1 158.8,346.2 155.8,344.6 152.8,340.6 150.5,336.6 148.5,330.6 148.1,327.6 147.3,324.6 147.3,320.6 148.0,317.6 148.3,313.6 149.8,309.6 153.3,303.6 155.8,301.1 156.8,300.3 157.8,299.9 165.8,296.9 168.6,296.6 170.8,296.0 173.8,295.8 183.8,295.9 188.8,297.0Z" fill="#a69a69" fill-rule="evenodd"/>
<path d="M92.4,271.6 93.8,270.2 96.8,268.9 100.8,267.9 104.8,267.5 106.8,267.7 108.8,268.2 111.8,269.3 114.5,270.6 117.5,272.6 119.9,274.6 121.6,276.6 122.9,278.6 125.0,282.6 126.3,285.6 126.6,287.6 126.4,288.6 125.9,289.6 125.2,290.6 124.0,291.6 122.3,292.6 117.8,294.3 114.8,294.9 110.8,294.8 107.8,294.3 105.8,293.6 102.8,292.2 99.8,290.4 96.8,287.9 94.8,285.6 92.9,282.6 91.6,279.6 91.1,277.6 91.1,276.6 91.3,274.6ZM191.8,301.7 194.8,303.8 196.6,305.6 197.3,306.6 199.4,310.6 200.9,315.6 201.0,318.6 200.7,320.6 199.1,325.6 198.2,327.6 197.5,328.6 193.8,332.3 190.8,334.7 187.8,336.1 180.3,340.6 174.8,343.3 170.8,344.9 168.8,345.4 166.8,345.5 165.8,345.4 162.8,344.3 157.8,341.6 155.2,338.6 153.4,335.6 151.2,329.6 150.1,324.6 150.1,321.6 151.3,314.6 152.8,310.8 155.8,305.9 158.4,303.6 162.8,301.5 166.8,300.2 171.8,299.0 176.8,298.7 182.8,298.8 187.8,300.0Z" fill="#9a8e62" fill-rule="evenodd"/>
<path d="M95.3,273.6 96.8,272.1 99.8,270.7 101.8,270.2 104.8,269.8 106.8,269.7 110.8,271.0 112.8,271.9 114.8,273.3 117.5,275.6 118.4,276.6 119.8,278.6 121.2,281.6 122.1,284.6 122.2,286.6 121.9,287.6 120.8,289.2 119.2,290.6 116.8,291.7 114.8,292.3 112.8,292.4 108.8,292.1 106.8,291.6 103.8,290.2 101.2,288.6 98.9,286.6 96.5,283.6 95.3,281.6 94.6,279.6 94.2,277.6 94.5,275.6ZM190.8,303.6 193.4,305.6 195.1,307.6 197.2,311.6 198.0,314.6 198.3,317.6 198.0,319.6 196.3,324.6 194.8,326.9 191.8,329.8 189.4,331.6 183.4,334.6 177.8,338.3 175.8,339.5 172.8,340.9 169.8,342.1 166.8,342.5 164.8,342.1 160.8,340.3 158.8,339.0 156.8,336.8 155.0,333.6 153.1,328.6 152.4,324.6 152.5,320.6 153.6,314.6 154.9,311.6 157.4,307.6 159.8,305.6 161.4,304.6 163.8,303.6 170.8,301.5 174.8,300.9 179.8,300.7 182.8,301.0 187.8,302.3Z" fill="#8d825b" fill-rule="evenodd"/>
<path d="M97.9,275.6 98.8,274.6 100.8,273.1 101.8,272.7 105.8,271.9 106.8,271.9 109.0,272.6 111.4,273.6 113.0,274.6 115.1,276.6 116.8,278.5 117.4,279.6 118.2,281.6 118.5,283.6 118.4,285.6 118.1,286.6 116.6,288.6 114.9,289.6 113.8,289.8 108.3,289.6 106.8,289.1 103.9,287.6 102.5,286.6 100.5,284.6 97.7,280.6 97.5,279.6 97.4,277.6 97.5,276.6ZM189.8,305.6 192.8,308.3 194.2,310.6 195.3,313.6 195.5,316.6 195.2,319.6 194.0,322.6 192.8,324.5 190.8,326.5 188.8,328.2 186.8,329.4 181.8,331.4 179.8,332.5 175.8,335.8 173.8,337.1 170.8,338.6 168.8,339.3 166.8,339.6 165.8,339.5 163.8,338.9 160.8,337.3 158.8,335.7 157.0,332.6 155.3,328.6 154.7,325.6 154.6,322.6 155.1,317.6 155.8,314.6 156.8,312.6 158.8,309.5 161.8,307.1 163.8,305.9 170.8,303.8 175.8,302.9 178.8,302.7 181.8,302.9 186.8,304.1Z" fill="#7e7553" fill-rule="evenodd"/>
<path d="M188.8,307.7 190.8,309.7 192.0,311.6 192.7,313.6 192.8,316.7 192.6,318.6 191.8,320.6 190.8,322.0 188.3,324.6 186.8,325.7 185.1,326.6 179.8,328.3 177.8,329.2 176.8,329.9 172.8,334.0 170.0,335.6 167.8,336.5 165.8,336.6 164.8,336.4 161.8,334.9 160.3,333.6 158.8,331.0 157.3,327.6 157.1,325.6 157.0,321.6 157.2,318.6 157.8,316.1 158.8,313.7 160.8,311.0 163.9,308.6 164.8,308.1 171.8,306.0 176.8,305.0 179.8,305.0 181.8,305.2 186.8,306.5Z" fill="#6c6449" fill-rule="evenodd"/>
</g>
<rect x="48.2" y="258.8" width="5.6" height="140.8" fill="#ccb974"/>
<rect x="48.2" y="383.8" width="5.6" height="0.6" fill="#d9cb98"/>
<rect x="48.2" y="386.3" width="5.6" height="0.6" fill="#d9cb98"/>
<rect x="48.2" y="389.4" width="5.6" height="0.6" fill="#d9cb98"/>
<path d="M79.64,420.0V424.2M82.18,420.0V424.2M84.72,420.0V424.2M87.27,420.0V424.2M89.81,420.0V424.2M92.36,420.0V424.2M94.91,420.0V424.2M97.45,420.0V424.2M100.00,420.0V424.2M102.54,420.0V424.2M105.09,420.0V424.2M107.63,420.0V424.2M110.17,420.0V424.2M112.72,420.0V424.2M115.26,420.0V424.2M117.81,420.0V424.2M120.36,420.0V424.2M122.90,420.0V424.2M125.45,420.0V424.2M127.99,420.0V424.2M130.54,420.0V424.2M133.08,420.0V424.2M135.62,420.0V424.2M138.17,420.0V424.2M140.72,420.0V424.2M143.26,420.0V424.2M145.81,420.0V424.2M148.35,420.0V424.2M150.90,420.0V424.2M153.44,420.0V424.2M155.99,420.0V424.2M158.53,420.0V424.2M161.07,420.0V424.2M163.62,420.0V424.2M166.17,420.0V424.2M168.71,420.0V424.2M171.26,420.0V424.2M173.80,420.0V424.2M176.35,420.0V424.2M178.89,420.0V424.2M181.44,420.0V424.2M183.98,420.0V424.2M186.52,420.0V424.2M189.07,420.0V424.2M191.62,420.0V424.2M194.16,420.0V424.2M196.71,420.0V424.2M199.25,420.0V424.2M201.80,420.0V424.2M204.34,420.0V424.2M206.89,420.0V424.2M209.43,420.0V424.2M211.97,420.0V424.2M214.52,420.0V424.2M217.07,420.0V424.2M219.61,420.0V424.2M222.16,420.0V424.2M224.70,420.0V424.2M227.25,420.0V424.2M229.79,420.0V424.2M232.34,420.0V424.2M234.88,420.0V424.2M237.42,420.0V424.2M239.97,420.0V424.2" stroke="#ccb974" stroke-width="1.70" fill="none"/>
<text x="71.2" y="438.0" font-size="7.2" text-anchor="middle">20</text>
<text x="96.7" y="438.0" font-size="7.2" text-anchor="middle">21</text>
<text x="122.1" y="438.0" font-size="7.2" text-anchor="middle">22</text>
<text x="147.5" y="438.0" font-size="7.2" text-anchor="middle">23</text>
<text x="173.0" y="438.0" font-size="7.2" text-anchor="middle">24</text>
<text x="198.4" y="438.0" font-size="7.2" text-anchor="middle">25</text>
<text x="223.9" y="438.0" font-size="7.2" text-anchor="middle">26</text>
<text x="249.3" y="438.0" font-size="7.2" text-anchor="middle">27</text>
<text x="37.7" y="275.6" font-size="7.2" text-anchor="end">14000</text>
<text x="37.7" y="315.3" font-size="7.2" text-anchor="end">12000</text>
<text x="37.7" y="355.0" font-size="7.2" text-anchor="end">10000</text>
<text x="37.7" y="394.7" font-size="7.2" text-anchor="end">8000</text>
<text x="141.0" y="448.7" font-size="8.4">temp_3m</text>
<text x="182.1" y="448.7" font-size="8.4">(<tspan font-size="5.6" dy="-2.6">o</tspan><tspan dy="2.6">C)</tspan></text>
<text transform="translate(11.0,349.5) rotate(-90)" font-size="8.1">production</text>
<text transform="translate(11.0,303.0) rotate(-90)" font-size="8.3" stroke="#3a3a3a" stroke-width="0.2">(Kg/ha)</text>
<text x="140.6" y="245.5" font-size="14.0" font-weight="bold" text-anchor="middle" style="fill:#000">c</text>
</g>
<g>
<rect x="320.5" y="233.6" width="222.8" height="190.6" fill="#eaeaf2"/>
<path d="M337.1,233.6V424.2M372.1,233.6V424.2M407.2,233.6V424.2M442.2,233.6V424.2M477.2,233.6V424.2M512.2,233.6V424.2M320.5,273.6H543.3M320.5,313.2H543.3M320.5,352.7H543.3M320.5,392.3H543.3" stroke="#fff" stroke-width="0.90" fill="none"/>
<g>
<path d="M389.9,255.7 392.0,254.5 394.1,253.4 396.3,252.6 398.5,251.9 402.0,251.3 404.4,251.2 406.7,251.4 410.2,252.2 412.4,252.9 414.5,253.8 417.5,255.6 423.5,260.0 424.5,260.5 425.5,260.9 426.6,261.0 427.7,260.9 429.8,260.2 435.3,257.1 437.4,256.2 439.6,255.4 441.9,254.9 444.2,254.7 447.8,254.8 450.1,255.2 452.3,255.9 455.4,257.5 460.4,260.7 463.5,262.3 467.8,264.1 472.4,265.5 474.8,265.8 477.1,265.7 479.2,265.0 483.3,262.6 485.6,261.6 487.9,261.0 489.0,260.9 490.2,261.0 492.3,261.7 497.5,264.6 498.6,265.1 500.8,265.9 504.3,266.5 511.4,266.8 513.7,267.2 514.8,267.6 516.8,268.7 518.6,270.4 519.3,271.3 520.0,272.4 520.9,274.6 521.2,276.9 521.2,278.1 520.7,280.5 520.2,281.7 519.6,282.7 518.9,283.7 518.0,284.5 517.1,285.2 516.1,285.6 513.8,286.0 508.9,285.9 506.5,286.1 504.2,286.6 503.1,287.0 501.1,288.1 500.1,288.7 498.3,290.3 496.0,293.0 494.2,296.1 492.7,299.3 491.3,303.7 490.5,307.2 490.1,310.7 490.3,314.2 491.1,317.6 492.8,322.0 495.4,327.3 499.8,335.6 500.8,337.7 501.5,339.9 502.0,342.2 502.2,344.5 502.1,346.9 501.6,350.4 500.6,353.9 499.7,356.1 498.6,358.2 497.3,360.1 494.9,362.6 489.3,367.0 487.6,368.6 486.0,370.3 483.2,374.0 480.1,379.1 478.8,381.0 477.2,382.8 475.4,384.3 473.3,385.5 472.1,385.9 469.8,386.3 467.5,386.1 465.2,385.4 464.1,384.9 462.1,383.7 459.4,381.5 457.0,378.9 454.0,374.8 452.3,373.1 451.4,372.6 450.5,372.2 449.4,372.2 448.3,372.3 446.0,373.2 442.7,375.2 439.7,377.5 438.1,379.2 436.9,381.0 436.0,383.1 435.5,385.3 434.6,390.0 434.0,392.4 433.1,394.7 432.5,395.7 431.7,396.6 430.8,397.3 429.8,397.8 428.6,398.1 427.4,398.2 426.2,398.1 425.1,397.7 424.1,397.2 422.3,395.6 420.8,393.6 416.8,387.8 414.5,385.2 412.7,383.7 410.7,382.4 407.5,380.9 398.5,378.1 393.1,376.1 388.8,374.1 385.8,372.3 380.9,369.0 376.5,365.2 374.0,362.7 372.5,360.9 369.7,357.2 367.3,353.1 365.3,348.9 363.7,344.4 362.5,339.9 361.8,335.3 361.5,330.6 361.7,325.9 362.3,321.2 363.1,317.7 363.9,315.5 364.8,313.4 365.9,311.3 367.2,309.4 368.6,307.6 374.2,301.3 375.7,299.5 377.0,297.5 378.1,295.5 378.8,293.3 379.2,291.0 379.3,288.7 379.0,281.5 379.1,276.8 379.6,272.2 380.4,268.8 381.2,266.5 382.1,264.4 383.9,261.3 386.3,258.7 388.0,257.1ZM514.2,363.4 516.1,363.6 517.0,363.9 518.8,364.8 519.6,365.3 521.1,366.6 522.9,368.8 524.2,371.4 525.1,374.2 525.7,377.0 525.9,380.8 525.7,384.7 525.3,387.5 524.4,390.2 523.1,392.8 521.2,395.0 519.7,396.2 518.9,396.7 517.0,397.4 516.1,397.6 514.2,397.8 512.3,397.6 511.3,397.4 509.5,396.7 508.7,396.2 507.1,395.0 505.3,392.8 503.9,390.2 503.1,387.5 502.6,384.7 502.5,380.8 502.7,377.0 503.3,374.2 504.2,371.4 505.5,368.8 507.3,366.6 508.8,365.3 509.6,364.8 511.4,363.9 512.3,363.6Z" fill="#d6c683" stroke="#d6c683" stroke-width="0.3"/>
<path d="M393.5,257.5 397.5,255.6 402.5,254.6 404.5,254.6 408.5,255.5 414.5,257.9 416.5,259.2 419.1,261.6 420.4,262.6 423.5,263.6 425.5,263.5 429.5,262.5 432.5,262.2 436.5,260.8 439.5,260.2 443.5,259.8 447.5,260.0 450.5,261.0 460.5,266.4 472.5,271.4 476.5,272.3 480.5,272.4 484.5,272.2 487.5,272.5 490.0,273.6 491.2,274.6 492.0,275.6 492.5,276.6 492.7,277.6 492.6,278.6 490.5,284.0 488.6,289.6 487.8,292.6 486.7,298.6 485.7,306.6 485.7,308.6 485.9,313.6 486.4,316.6 486.7,320.6 489.1,326.6 491.2,332.6 493.7,338.6 494.9,343.6 494.9,345.6 494.6,347.6 494.1,349.6 493.3,351.6 490.5,356.4 485.5,361.6 480.9,367.6 476.5,374.9 474.5,377.6 473.4,378.6 470.5,380.3 468.5,380.8 466.5,380.4 464.5,379.4 462.5,378.0 460.1,375.6 458.5,373.4 455.4,369.6 454.9,368.6 454.8,367.6 455.9,363.6 456.1,359.6 456.9,356.6 457.1,349.6 457.7,346.6 457.6,345.6 456.5,342.9 455.5,342.5 451.5,342.6 450.5,343.1 449.5,344.2 448.9,345.6 447.8,349.6 447.0,353.6 445.5,357.1 443.6,363.6 443.2,367.6 442.6,368.6 438.5,371.9 435.5,374.0 433.8,375.6 431.7,378.6 428.5,384.8 427.5,386.1 426.5,386.7 425.5,386.8 423.5,385.9 414.5,379.1 411.9,377.6 408.5,376.1 397.5,372.9 387.5,368.0 383.5,365.4 380.0,362.6 377.5,359.7 375.5,358.0 371.2,351.6 368.3,345.6 365.9,336.6 365.5,329.6 365.8,322.6 367.1,317.6 368.5,314.0 370.7,310.6 375.1,305.6 378.5,300.7 380.4,297.6 381.5,294.3 381.8,292.6 382.1,275.6 383.3,270.6 384.7,266.6 386.2,263.6 387.5,262.0 390.2,259.6Z" fill="#cdbe7e" fill-rule="evenodd"/>
<path d="M391.6,262.6 395.5,260.2 397.5,259.3 402.5,258.0 404.5,258.0 407.5,258.7 412.5,260.6 414.5,261.7 418.5,264.8 421.5,266.2 422.5,266.4 423.5,266.3 427.1,264.6 429.5,263.8 430.5,263.8 431.5,264.0 433.1,264.6 436.8,266.6 438.0,267.6 440.5,270.6 441.5,270.6 444.5,269.8 447.5,269.7 449.5,269.8 452.5,270.8 454.5,271.8 456.5,273.1 460.1,276.6 463.9,281.6 465.4,284.6 470.3,289.6 471.0,290.6 471.8,292.6 472.5,293.6 477.1,298.6 480.9,306.6 482.0,312.6 482.0,314.6 481.5,316.6 479.3,319.6 479.4,320.6 480.9,323.6 481.3,325.6 481.1,327.6 479.8,331.6 480.1,337.6 479.6,341.6 479.5,346.6 479.2,348.6 478.3,351.6 477.6,355.6 476.6,358.6 475.7,362.6 474.4,365.6 473.5,368.6 472.5,370.5 470.5,372.9 469.5,373.6 468.5,373.8 467.5,373.6 465.5,372.6 464.5,371.8 463.5,370.6 461.5,367.6 461.1,366.6 460.2,362.6 460.0,360.6 460.1,359.6 460.9,356.6 461.2,346.6 461.0,344.6 460.4,342.6 459.7,339.6 458.2,336.6 457.4,331.6 456.0,328.6 454.9,324.6 454.8,323.6 455.0,319.6 454.8,318.6 454.1,317.6 450.5,316.6 448.5,316.4 447.0,316.6 445.0,317.6 444.4,318.6 444.2,321.6 444.8,324.6 446.2,328.6 446.5,331.6 447.1,334.6 447.0,337.6 446.8,338.6 444.2,344.6 441.7,352.6 437.5,363.4 436.5,365.1 435.0,366.6 424.5,374.2 422.5,374.9 420.5,374.8 409.5,371.4 403.5,369.9 399.5,368.6 396.5,367.4 390.5,364.5 386.5,362.0 383.5,359.6 378.5,353.8 375.9,349.6 374.4,346.6 372.7,342.6 371.3,337.6 370.7,334.6 370.4,329.6 370.4,325.6 370.6,322.6 371.6,318.6 372.9,315.6 374.0,313.6 377.9,307.6 380.5,302.9 382.6,298.6 383.9,293.6 384.5,278.6 385.1,274.6 386.3,270.6 387.9,266.6 389.3,264.6Z" fill="#c4b579" fill-rule="evenodd"/>
<path d="M402.5,261.3 404.5,261.2 406.5,261.6 410.5,263.0 412.5,264.1 417.5,267.4 422.5,269.9 423.5,270.6 424.5,272.1 427.4,277.6 430.7,282.6 431.1,283.6 431.7,286.6 432.4,288.6 433.5,290.6 436.0,293.6 437.3,296.6 437.8,298.6 438.3,306.6 439.3,310.6 439.5,315.2 441.0,319.6 441.3,323.6 442.1,328.6 442.4,334.6 441.9,337.6 435.9,353.6 434.1,357.6 432.5,360.3 430.5,362.3 428.5,363.6 423.5,366.4 420.5,367.6 418.5,367.7 414.5,367.3 406.5,365.9 403.5,365.2 399.5,363.8 395.5,362.0 392.5,360.5 389.4,358.6 387.0,356.6 385.5,355.0 382.8,351.6 380.9,348.6 378.9,344.6 377.6,341.6 376.3,337.6 375.7,334.6 375.1,327.6 375.2,324.6 375.5,321.6 376.0,319.6 376.7,317.6 381.8,306.6 384.2,300.6 385.2,297.6 386.0,293.6 386.6,283.6 387.1,277.6 387.8,274.6 389.1,270.6 390.6,267.6 391.5,266.6 393.5,265.0 395.5,263.8 398.5,262.4ZM444.5,273.1 447.5,272.9 449.5,273.2 450.5,273.6 453.5,275.0 456.6,277.6 457.5,278.6 460.5,282.6 462.5,286.1 467.3,291.6 469.0,294.6 473.0,298.6 474.6,300.6 477.9,307.6 478.4,312.6 478.0,314.6 477.5,315.6 476.6,316.6 473.9,318.6 473.6,319.6 473.7,321.6 474.5,324.3 474.4,325.6 472.9,328.6 472.7,332.6 471.9,334.6 471.7,335.6 471.7,347.6 471.9,348.6 472.6,350.6 472.6,351.6 472.5,352.2 470.5,356.2 469.2,357.6 467.8,358.6 467.3,358.6 466.5,358.1 465.8,356.6 465.8,355.6 466.1,354.6 466.3,352.6 466.3,338.6 466.1,336.6 465.5,335.3 465.1,332.6 464.3,330.6 464.2,327.6 463.8,326.6 462.3,324.6 462.1,323.6 462.4,321.6 464.3,318.6 464.1,317.6 463.4,316.6 458.4,311.6 453.8,306.6 451.5,302.9 449.6,300.6 446.5,297.6 441.9,292.6 440.2,289.6 437.7,286.6 436.8,284.6 436.5,282.6 436.6,280.6 436.8,279.6 437.4,278.6 441.5,274.6 442.5,273.9Z" fill="#bbad74" fill-rule="evenodd"/>
<path d="M402.5,264.5 405.5,264.5 407.5,265.1 409.5,265.9 411.5,266.9 419.0,271.6 420.4,272.6 421.3,273.6 427.0,283.6 430.5,291.6 432.6,294.6 433.7,296.6 434.7,299.6 435.7,306.6 436.7,310.6 437.1,315.6 438.0,319.6 438.3,328.6 437.7,334.6 436.7,338.6 432.3,349.6 430.5,353.0 428.8,355.6 426.6,357.6 424.5,358.9 420.5,360.8 418.5,361.3 415.5,361.6 412.5,361.6 407.5,361.2 404.5,360.7 401.5,359.8 398.5,358.6 395.5,357.1 392.5,355.4 390.5,353.8 389.4,352.6 387.2,349.6 385.3,346.6 383.5,343.1 382.1,339.6 381.1,336.6 380.5,333.6 379.9,326.6 380.2,321.6 380.9,318.6 384.6,307.6 387.4,297.6 388.1,293.6 389.2,280.6 389.6,277.6 390.4,274.6 392.0,270.6 393.5,268.8 395.5,267.4 397.5,266.3 400.5,265.0ZM442.5,276.5 443.5,275.9 445.5,275.3 448.5,275.3 449.5,275.6 451.6,276.6 455.6,279.6 458.6,283.6 461.5,288.2 465.9,293.6 467.1,295.6 471.3,299.6 473.5,302.7 475.5,307.6 475.9,309.6 475.8,311.6 475.3,313.6 474.8,314.6 473.8,315.6 472.5,316.2 470.5,316.4 466.5,316.2 465.5,316.0 464.5,315.4 459.5,310.5 454.5,304.8 452.5,301.7 450.5,299.1 447.7,296.6 443.5,291.9 441.5,288.7 439.7,286.6 439.2,285.6 438.8,284.6 438.6,282.6 438.9,280.6 439.4,279.6Z" fill="#b1a46f" fill-rule="evenodd"/>
<path d="M402.5,267.7 404.5,267.5 406.5,267.9 410.5,269.7 416.4,273.6 418.5,275.6 419.2,276.6 424.5,286.1 427.5,292.6 430.1,296.6 431.1,298.6 432.0,301.6 434.4,311.6 435.3,319.6 434.4,328.6 432.9,335.6 431.5,339.6 429.8,343.6 428.5,346.1 426.5,349.2 424.6,351.6 423.5,352.6 421.5,353.9 418.5,355.2 416.5,355.7 413.5,356.2 410.5,356.5 407.5,356.4 403.5,355.8 400.5,354.7 397.5,353.3 395.5,352.1 393.6,350.6 391.9,348.6 390.6,346.6 387.6,340.6 385.8,335.6 385.0,330.6 384.6,325.6 384.9,320.6 386.1,314.6 387.8,307.6 389.5,298.6 390.1,294.6 391.0,284.6 391.7,279.6 392.4,276.6 394.0,272.6 395.5,270.9 397.5,269.6 399.5,268.6ZM443.5,278.5 444.5,277.9 445.5,277.6 447.5,277.6 448.5,277.8 450.5,278.6 453.5,280.8 456.6,284.6 459.9,289.6 462.0,292.6 463.8,294.6 465.5,297.2 469.5,300.6 472.2,304.6 473.5,308.6 473.4,310.6 472.8,312.6 472.4,313.6 471.5,314.4 470.5,314.8 467.5,314.7 465.5,314.0 464.5,313.2 460.9,309.6 458.6,306.6 455.8,303.6 451.6,297.6 449.2,295.6 447.6,293.6 444.5,290.3 442.8,287.6 441.2,285.6 440.7,283.6 440.9,281.6 441.4,280.6Z" fill="#a69a69" fill-rule="evenodd"/>
<path d="M403.5,270.6 405.5,270.7 406.5,270.9 408.5,271.8 410.5,272.9 414.5,276.2 415.8,277.6 417.2,279.6 420.5,286.0 422.6,289.6 425.0,294.6 427.6,298.6 428.6,300.6 431.8,310.6 432.2,312.6 432.5,317.6 432.5,319.6 432.2,321.6 430.3,329.6 428.6,334.6 427.0,338.6 426.0,340.6 424.7,342.6 421.5,346.7 420.5,347.7 418.5,349.0 416.5,349.9 413.5,350.8 408.5,351.6 406.5,351.7 404.5,351.4 401.5,350.5 398.0,348.6 395.9,346.6 393.6,342.6 391.4,337.6 390.1,332.6 389.3,326.6 389.5,320.6 390.1,313.6 391.0,307.6 391.2,303.6 392.0,297.6 392.4,291.6 393.2,284.6 394.4,278.6 395.3,275.6 395.8,274.6 396.6,273.6 398.0,272.6 400.5,271.4 402.5,270.8Z" fill="#9a8e62" fill-rule="evenodd"/>
<path d="M403.5,273.7 405.5,273.7 406.5,273.9 408.5,274.9 411.5,277.6 413.9,280.6 415.5,283.5 418.0,288.6 420.5,292.6 422.5,296.6 425.3,300.6 426.5,302.8 429.4,310.6 429.9,313.6 429.9,318.6 429.0,322.6 426.5,329.2 423.5,335.5 422.5,337.2 417.8,342.6 415.5,344.4 413.5,345.5 411.5,346.2 408.5,346.9 406.5,347.1 403.5,346.7 401.5,345.9 399.9,344.6 398.4,342.6 397.0,339.6 395.9,336.6 394.9,332.6 394.1,327.6 393.9,325.6 394.1,317.6 393.8,313.6 394.2,307.6 393.9,303.6 394.5,291.6 395.1,288.6 395.5,284.6 396.5,279.9 397.6,276.6 398.4,275.6 399.5,274.9 401.5,274.1Z" fill="#8d825b" fill-rule="evenodd"/>
<path d="M404.5,277.4 405.7,277.6 407.5,278.8 408.5,279.8 411.3,283.6 412.7,286.6 414.0,288.6 415.5,292.1 417.4,294.6 418.8,297.6 420.0,299.6 422.3,302.6 424.5,306.2 426.5,311.6 426.9,313.6 426.7,317.6 425.5,321.4 423.5,325.6 420.7,329.6 419.3,332.6 417.6,334.6 415.5,336.3 413.7,338.6 412.5,339.5 409.5,341.3 407.5,342.0 406.5,342.1 404.5,341.9 403.5,341.4 402.8,340.6 401.3,337.6 399.9,332.6 399.5,329.8 398.8,326.6 398.8,316.6 398.0,312.6 398.0,307.6 397.2,303.6 397.3,292.6 397.5,291.3 398.1,289.6 398.5,284.5 399.5,281.2 400.5,279.1 401.0,278.6 402.5,277.9 403.5,277.5Z" fill="#7e7553" fill-rule="evenodd"/>
<path d="M405.5,283.6 406.5,283.7 407.5,284.2 408.9,285.6 409.7,287.6 411.9,290.6 413.2,293.6 414.5,295.6 417.1,300.6 419.1,303.6 420.0,305.6 421.5,307.7 422.5,309.7 423.3,312.6 423.4,313.6 422.8,316.6 421.8,319.6 418.5,325.4 415.5,330.2 411.5,335.7 410.4,336.6 408.5,337.5 407.5,337.8 406.5,337.7 405.5,337.1 404.3,335.6 403.0,332.6 402.0,328.6 401.8,326.6 401.8,320.6 402.3,317.6 402.4,315.6 401.8,303.6 401.8,296.6 402.5,292.6 402.8,288.6 403.2,286.6 404.1,284.6 404.5,284.1Z" fill="#6c6449" fill-rule="evenodd"/>
</g>
<rect x="320.7" y="259.8" width="5.7" height="139.8" fill="#ccb974"/>
<rect x="320.7" y="384.0" width="5.7" height="0.6" fill="#d9cb98"/>
<rect x="320.7" y="386.5" width="5.7" height="0.6" fill="#d9cb98"/>
<rect x="320.7" y="389.5" width="5.7" height="0.6" fill="#d9cb98"/>
<path d="M347.61,420.0V424.2M375.63,420.0V424.2M379.14,420.0V424.2M382.64,420.0V424.2M389.65,420.0V424.2M393.15,420.0V424.2M396.65,420.0V424.2M400.15,420.0V424.2M403.66,420.0V424.2M407.16,420.0V424.2M410.66,420.0V424.2M414.17,420.0V424.2M417.67,420.0V424.2M421.17,420.0V424.2M424.68,420.0V424.2M428.18,420.0V424.2M431.68,420.0V424.2M435.18,420.0V424.2M438.69,420.0V424.2M442.19,420.0V424.2M445.69,420.0V424.2M449.20,420.0V424.2M452.70,420.0V424.2M459.71,420.0V424.2M463.21,420.0V424.2M466.71,420.0V424.2M470.21,420.0V424.2M473.72,420.0V424.2M487.73,420.0V424.2M491.23,420.0V424.2M512.25,420.0V424.2M515.75,420.0V424.2" stroke="#ccb974" stroke-width="1.70" fill="none"/>
<text x="336.3" y="438.0" font-size="7.2" text-anchor="middle">21</text>
<text x="371.3" y="438.0" font-size="7.2" text-anchor="middle">22</text>
<text x="406.4" y="438.0" font-size="7.2" text-anchor="middle">23</text>
<text x="441.4" y="438.0" font-size="7.2" text-anchor="middle">24</text>
<text x="476.4" y="438.0" font-size="7.2" text-anchor="middle">25</text>
<text x="511.4" y="438.0" font-size="7.2" text-anchor="middle">26</text>
<text x="309.3" y="276.2" font-size="7.2" text-anchor="end">14000</text>
<text x="309.3" y="315.8" font-size="7.2" text-anchor="end">12000</text>
<text x="309.3" y="355.3" font-size="7.2" text-anchor="end">10000</text>
<text x="309.3" y="394.9" font-size="7.2" text-anchor="end">8000</text>
<text x="413.2" y="448.7" font-size="8.4">temp_4m</text>
<text x="450.2" y="448.7" font-size="8.4">(<tspan font-size="5.6" dy="-2.6">o</tspan><tspan dy="2.6">C)</tspan></text>
<text transform="translate(281.4,349.5) rotate(-90)" font-size="8.1">production</text>
<text transform="translate(281.4,303.0) rotate(-90)" font-size="8.3" stroke="#3a3a3a" stroke-width="0.2">(Kg/ha)</text>
<text x="524.0" y="248.2" font-size="14.0" font-weight="normal" text-anchor="middle" style="fill:#000">d</text>
</g>
</svg></body></html>
